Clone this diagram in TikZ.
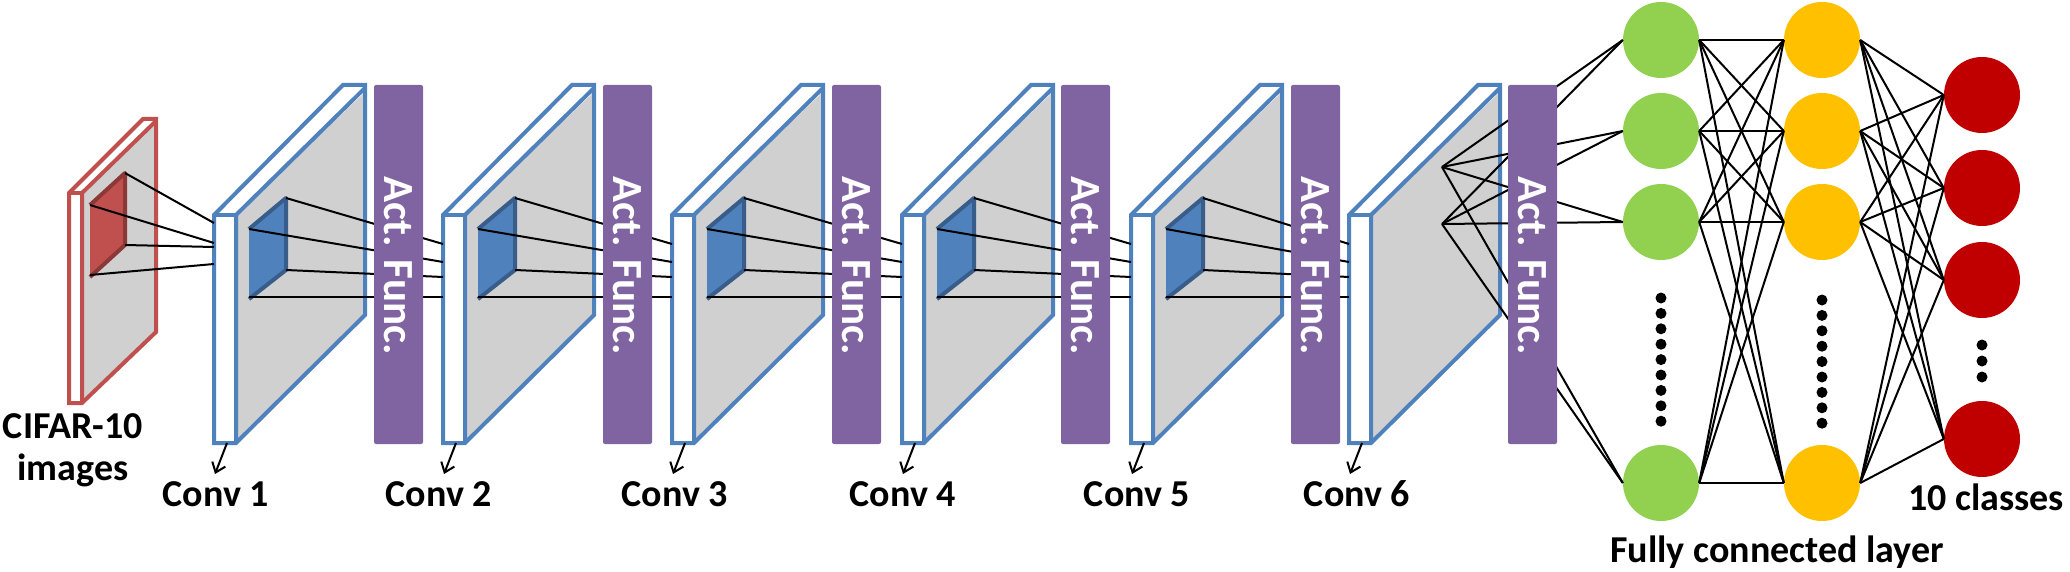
\documentclass[tikz,border=0pt]{standalone}
\usepackage{fontspec}
\setmainfont{Carlito}
\usetikzlibrary{arrows.meta}
\definecolor{cblue}{HTML}{4F81BD}
\definecolor{cblued}{HTML}{385D8A}
\definecolor{cred}{HTML}{C0504D}
\definecolor{credd}{HTML}{8C3836}
\definecolor{cgray}{HTML}{D0D0D0}
\definecolor{cpurple}{HTML}{8064A2}
\definecolor{cgreen}{HTML}{92D050}
\definecolor{cyellow}{HTML}{FFC000}
\definecolor{cdred}{HTML}{C00000}
\tikzset{
  frame/.style={line width=4pt, line join=miter},
  wire/.style={line width=2pt, black},
  neuron/.style={circle, minimum size=76pt, inner sep=0pt, draw=none},
  actbar/.style={fill=cpurple, rounded corners=2pt},
  acttext/.style={white, font=\bfseries\fontsize{43}{43}\selectfont, rotate=-90},
  lbl/.style={font=\bfseries\fontsize{38}{42}\selectfont, align=center},
  dot/.style={fill=black, circle, inner sep=0pt, minimum size=11pt},
  ptr/.style={line width=2pt, -{Straight Barb[length=9pt,width=14pt]}}
}
\newcommand{\convlayer}[2]{% x0, name
  \fill[cgray] (#1+22,215) -- (#1+151,92) -- (#1+151,315) -- (#1+22,443) -- cycle;
  \fill[white] (#1,215) -- (#1+129,85) -- (#1+151,85) -- (#1+22,215) -- cycle;
  \fill[white] (#1,215) rectangle (#1+22,443);
  \draw[frame, cblue] (#1,443) -- (#1,215) -- (#1+129,85) -- (#1+151,85) -- (#1+151,315) -- (#1+22,443) -- cycle;
  \draw[frame, cblue] (#1+22,443) -- (#1+22,215) -- (#1+151,88);
  \draw[frame, cblue] (#1,215) -- (#1+22,215);
  \coordinate (#2s1) at (#1,244); \coordinate (#2s2) at (#1,262);
  \coordinate (#2s3) at (#1,277); \coordinate (#2s4) at (#1,297);
}
\newcommand{\patch}[2]{% x0, name
  \fill[cblue] (#1+35,229) -- (#1+72,198) -- (#1+72,270) -- (#1+35,299) -- cycle;
  \draw[cblued, line width=4pt, line join=round] (#1+35,229) -- (#1+72,198) -- (#1+72,270) -- (#1+35,299);
  \coordinate (#2p1) at (#1+72,198); \coordinate (#2p2) at (#1+35,229);
  \coordinate (#2p3) at (#1+72,270); \coordinate (#2p4) at (#1+35,297);
}
\begin{document}
\begin{tikzpicture}[x=1pt,y=-1pt]
\useasboundingbox (0,0) rectangle (2070,572);
% CIFAR input
\fill[cgray] (82,193) -- (156,122) -- (156,332) -- (82,403) -- cycle;
\fill[white] (69,193) -- (143,119) -- (156,119) -- (82,193) -- cycle;
\fill[white] (69,193) rectangle (82,403);
\draw[frame, cred] (69,403) -- (69,193) -- (143,119) -- (156,119) -- (156,332) -- (82,403) -- cycle;
\draw[frame, cred] (82,403) -- (82,193) -- (156,121);
\draw[frame, cred] (69,193) -- (82,193);
\fill[cred] (90,205) -- (125,173) -- (125,245) -- (90,277) -- cycle;
\draw[credd, line width=4pt, line join=round] (90,205) -- (125,173) -- (125,245) -- (90,277);
\coordinate (ip1) at (125,173); \coordinate (ip2) at (90,205);
\coordinate (ip3) at (125,245); \coordinate (ip4) at (90,275);
% conv layers
\convlayer{214}{a}
\convlayer{443}{b}
\convlayer{672}{c}
\convlayer{902}{d}
\convlayer{1131}{e}
\convlayer{1349}{f}
\patch{214}{a}\patch{443}{b}\patch{672}{c}\patch{902}{d}\patch{1131}{e}
\coordinate (as1) at (214,223); \coordinate (as2) at (214,243);
\coordinate (as3) at (214,247); \coordinate (as4) at (214,264);
\foreach \i in {1,...,4}{
  \draw[wire] (ip\i) -- (as\i);
  \draw[wire] (ap\i) -- (bs\i);
  \draw[wire] (bp\i) -- (cs\i);
  \draw[wire] (cp\i) -- (ds\i);
  \draw[wire] (dp\i) -- (es\i);
  \draw[wire] (ep\i) -- (fs\i);
}
% FC nodes
\foreach \y [count=\k] in {40,131,222,483}{
  \node[neuron, fill=cgreen] (g\k) at (1661,\y) {};
  \node[neuron, fill=cyellow] (y\k) at (1822,\y) {};
}
\foreach \y [count=\k] in {95,188,280,439}{
  \node[neuron, fill=cdred] (r\k) at (1982,\y) {};
}
\coordinate (fa) at (1442,167);
\coordinate (fb) at (1442,224);
\foreach \k in {1,...,4}{
  \draw[wire] (fa) -- (g\k.west);
  \draw[wire] (fb) -- (g\k.west);
  \foreach \j in {1,...,4}{
    \draw[wire] (g\k.east) -- (y\j.west);
    \draw[wire] (y\k.east) -- (r\j.west);
  }
}
% act bars
\foreach \x [count=\k] in {374,603,832,1061,1291,1508}{
  \fill[actbar] (\x,85) rectangle (\x+49,444);
  \node[acttext] (act\k) at (\x+24.5,266) {Act. Func.};
}
% dots
\foreach \i in {0,...,8}{
  \node[dot] (gd\i) at (1661,298+\i*15.4) {};
  \node[dot] (yd\i) at (1822,300+\i*15.4) {};
}
\foreach \i in {0,...,2}{
  \node[dot] (rd\i) at (1982,345+\i*16) {};
}
% labels
\node[lbl] (lcifar) at (73,450) {CIFAR-10\\images};
\foreach \x/\c/\n in {214/216/1,443/439/2,672/675/3,902/903/4,1131/1137/5,1349/1357/6}{
  \coordinate (top\n) at (\x+13,443);
  \coordinate (tip\n) at (\x+1,474);
  \draw[ptr] (top\n) -- (tip\n);
  \node[lbl] (conv\n) at (\c,494) {Conv \n};
}
\node[lbl] (lclasses) at (1986,497) {10 classes};
\node[lbl] (lfc) at (1777,552) {Fully connected layer};
\end{tikzpicture}
\end{document}
